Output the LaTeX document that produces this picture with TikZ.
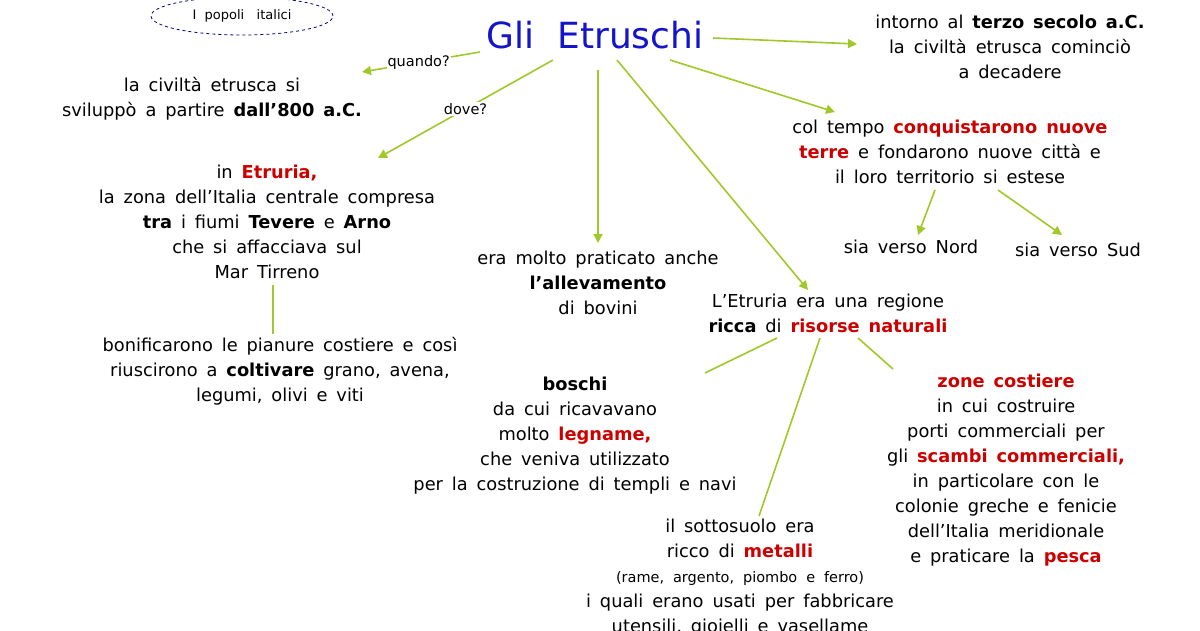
\documentclass[tikz,border=0pt]{standalone}
\usepackage{fontspec}
\setmainfont{DejaVu Sans}
\usetikzlibrary{arrows.meta,shapes.geometric}
\definecolor{lg}{RGB}{160,200,40}
\definecolor{rd}{RGB}{205,0,0}
\definecolor{tb}{RGB}{20,20,200}
\newcommand{\rr}[1]{\textbf{\color{rd}#1}}
\newcommand{\wsp}{\spaceskip=0.5em\relax}
\newcommand{\ap}{\char39\relax}
\tikzset{
 txt/.style={align=center,inner sep=0pt,font=\fontsize{17.8}{25}\selectfont\wsp},
 arr/.style={draw=lg,line width=1.6pt,-{Triangle[length=9pt,width=9pt]}},
 ln/.style={draw=lg,line width=1.6pt},
 lab/.style={inner sep=1pt,fill=white,font=\fontsize{14.5}{16}\selectfont}
}
\begin{document}
\begin{tikzpicture}[x=1pt,y=-1pt]
\useasboundingbox (0,0) rectangle (1200,630);
\node[ellipse,draw=blue!50!black,dashed,thick,minimum width=182pt,minimum height=38pt,font=\fontsize{13}{14}\selectfont] (ell) at (242,16) {I~ popoli~~ italici};
\node[font=\fontsize{36}{40}\selectfont,text=tb,inner sep=2pt] (t) at (595,35) {Gli~ Etruschi};
\node[txt] (a) at (212,99) {la civiltà etrusca si\\sviluppò a partire \textbf{dall\ap800 a.C.}};
\node[txt] (b) at (1010,47) {intorno al \textbf{terzo secolo a.C.}\\la civiltà etrusca cominciò\\a decadere};
\node[txt] (c) at (950,152) {col tempo \rr{conquistarono nuove}\\\rr{terre} e fondarono nuove città e\\il loro territorio si estese};
\node[txt] (n) at (911,247) {sia verso Nord};
\node[txt] (s) at (1078,250) {sia verso Sud};
\node[txt] (e) at (267,222) {in \rr{Etruria,}\\la zona dell\ap Italia centrale compresa\\\textbf{tra} i fiumi \textbf{Tevere} e \textbf{Arno}\\che si affacciava sul\\Mar Tirreno};
\node[txt] (bo) at (280,371) {bonificarono le pianure costiere e così\\riuscirono a \textbf{coltivare} grano, avena,\\legumi, olivi e viti};
\node[txt] (al) at (598,283) {era molto praticato anche\\\textbf{l\ap allevamento}\\di bovini};
\node[txt] (r) at (828,313) {L\ap Etruria era una regione\\\textbf{ricca} di \rr{risorse naturali}};
\node[txt] (bs) at (575,436) {\textbf{boschi}\\da cui ricavavano\\molto \rr{legname,}\\che veniva utilizzato\\per la costruzione di templi e navi};
\node[txt] (z) at (1006,470) {\rr{zone costiere}\\in cui costruire\\porti commerciali per\\gli \rr{scambi commerciali,}\\in particolare con le\\colonie greche e fenicie\\dell\ap Italia meridionale\\e praticare la \rr{pesca}};
\node[txt] (m) at (740,578) {il sottosuolo era\\ricco di \rr{metalli}\\{\fontsize{14.5}{25}\selectfont(rame, argento, piombo e ferro)}\\i quali erano usati per fabbricare\\utensili, gioielli e vasellame};
% connectors
\coordinate (q0) at (480,52); \coordinate (q1) at (362,72);
\draw[arr] (q0) -- node[lab,pos=0.52]{quando?} (q1);
\coordinate (d0) at (553,60); \coordinate (d1) at (378,158);
\draw[arr] (d0) -- node[lab,pos=0.5]{dove?} (d1);
\draw[arr] (713,38) -- (857,44);
\draw[arr] (670,60) -- (835,112);
\draw[arr] (935,190) -- (918,235);
\draw[arr] (998,190) -- (1062,235);
\draw[arr] (598,70) -- (598,243);
\draw[arr] (617,60) -- (808,290);
\draw[ln] (273,285) -- (273,334);
\draw[ln] (777,338) -- (705,373);
\draw[ln] (820,338) -- (759,516);
\draw[ln] (858,338) -- (893,369);
\end{tikzpicture}
\end{document}
